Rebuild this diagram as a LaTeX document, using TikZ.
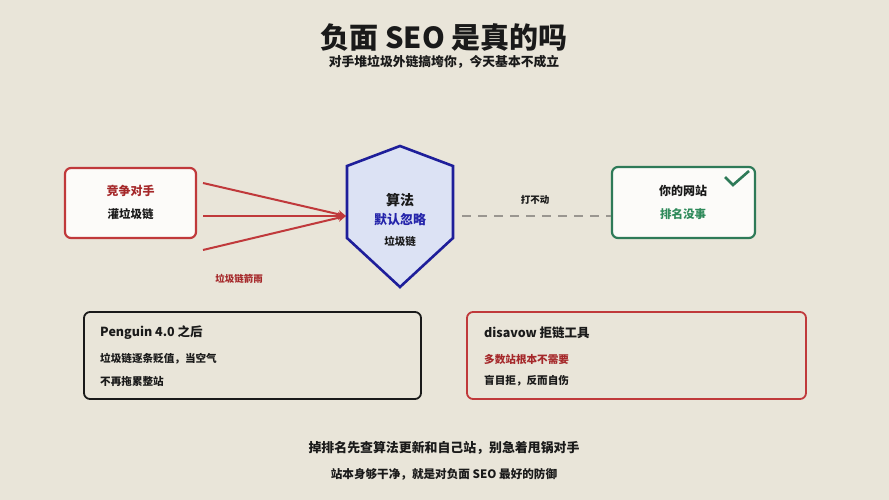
\documentclass[tikz,border=0pt]{standalone}
\usepackage{fontspec}
\setmainfont{Noto Sans CJK SC}
\usetikzlibrary{arrows.meta}
\definecolor{bgc}{HTML}{E9E5D9}
\definecolor{redc}{HTML}{C0393B}
\definecolor{redt}{HTML}{A5282A}
\definecolor{greenc}{HTML}{2E7A58}
\definecolor{greent}{HTML}{2E8A5A}
\definecolor{bluec}{HTML}{1E1E9A}
\definecolor{bluef}{HTML}{DCE2F4}
\definecolor{bluet}{HTML}{2424AA}
\definecolor{inkc}{HTML}{1A1A1A}
\definecolor{grayc}{HTML}{9A9690}
\tikzset{
	card/.style={draw,rounded corners=6pt,line width=2.2pt,fill=white!85!bgc},
	panel/.style={draw,rounded corners=6pt,line width=1.8pt},
	big/.style={font=\bfseries\fontsize{12}{14}\selectfont},
	small/.style={font=\bfseries\fontsize{10.6}{12}\selectfont},
	spear/.style={draw=redc,line width=2pt,-{Stealth[length=8pt,width=8pt]}}
}

\begin{document}
\begin{tikzpicture}[x=1pt,y=-1pt,inkc]
	\useasboundingbox[fill=bgc] (0,0) rectangle (889,500);
	% title
	\draw (444,37) node(ttl) [font=\bfseries\fontsize{29}{32}\selectfont] {负面 SEO 是真的吗};
	\draw (444,62) node(sub) [font=\bfseries\fontsize{12.8}{14}\selectfont] {对手堆垃圾外链搞垮你，今天基本不成立};
	% rival
	\draw (130.5,203) node(rival) [card,draw=redc,minimum width=131pt,minimum height=70pt] {};
	\draw (130.5,191) node(r1) [big,text=redt] {竞争对手};
	\draw (130.5,214) node(r2) [font=\bfseries\fontsize{11.5}{13}\selectfont] {灌垃圾链};
	% algorithm
	\coordinate (h1) at (400,146);
	\coordinate (h2) at (453,166);
	\coordinate (h3) at (453,238);
	\coordinate (h4) at (400,287);
	\coordinate (h5) at (347,238);
	\coordinate (h6) at (347,166);
	\path[draw=bluec,fill=bluef,line width=2.6pt,line join=miter] (h1) -- (h2) -- (h3) -- (h4) -- (h5) -- (h6) -- cycle;
	\draw (400,200) node(algo) [font=\bfseries\fontsize{14}{16}\selectfont] {算法};
	\draw (400,220) node(a2) [font=\bfseries\fontsize{13}{15}\selectfont,text=bluet] {默认忽略};
	\draw (400,241) node(a3) [font=\bfseries\fontsize{10.5}{12}\selectfont] {垃圾链};
	% spam links
	\coordinate (s1) at (203,183);
	\coordinate (s2) at (203,216);
	\coordinate (s3) at (203,250);
	\coordinate (hw) at (346,216);
	\path[spear] (s1) -- (hw);
	\path[spear] (s2) -- (hw);
	\path[spear] (s3) -- (hw);
	\draw (239,279) node(rain) [font=\bfseries\fontsize{9.5}{11}\selectfont,text=redt] {垃圾链箭雨};
	% your site
	\draw (683.5,202.5) node(site) [card,draw=greenc,minimum width=143pt,minimum height=71pt] {};
	\draw (683,191) node(t1) [big] {你的网站};
	\draw (683,214) node(t2) [font=\bfseries\fontsize{11.5}{13}\selectfont,text=greent] {排名没事};
	\path[draw=greenc,line width=2.6pt] (725,177) -- (733,185) -- (749,171);
	\coordinate (hr) at (462,216);
	\coordinate (sw) at (611,216);
	\path[draw=grayc,line width=2pt,dash pattern=on 9pt off 7pt] (hr) -- (sw);
	\draw (535,200) node(hit) [font=\bfseries\fontsize{9.5}{11}\selectfont] {打不动};
	% notes
	\draw (252.5,355.5) node(peng) [panel,draw=inkc,minimum width=337pt,minimum height=87pt] {};
	\draw (100,333) node(p1) [anchor=west,inner sep=0pt,font=\bfseries\fontsize{12.5}{14}\selectfont] {Penguin 4.0 之后};
	\draw (100,359) node(p2) [anchor=west,inner sep=0pt,small] {垃圾链逐条贬值，当空气};
	\draw (100,381) node(p3) [anchor=west,inner sep=0pt,small] {不再拖累整站};
	\draw (636.5,355.5) node(dis) [panel,draw=redc,minimum width=339pt,minimum height=87pt] {};
	\draw (484,333) node(d1) [anchor=west,inner sep=0pt,font=\bfseries\fontsize{12.5}{14}\selectfont] {disavow 拒链工具};
	\draw (484,359) node(d2) [anchor=west,inner sep=0pt,small,text=redt] {多数站根本不需要};
	\draw (484,381) node(d3) [anchor=west,inner sep=0pt,small] {盲目拒，反而自伤};
	% footer
	\draw (444,448) node(f1) [font=\bfseries\fontsize{12.9}{14}\selectfont] {掉排名先查算法更新和自己站，别急着甩锅对手};
	\draw (444,474) node(f2) [font=\bfseries\fontsize{11.6}{13}\selectfont] {站本身够干净，就是对负面 SEO 最好的防御};
\end{tikzpicture}
\end{document}
